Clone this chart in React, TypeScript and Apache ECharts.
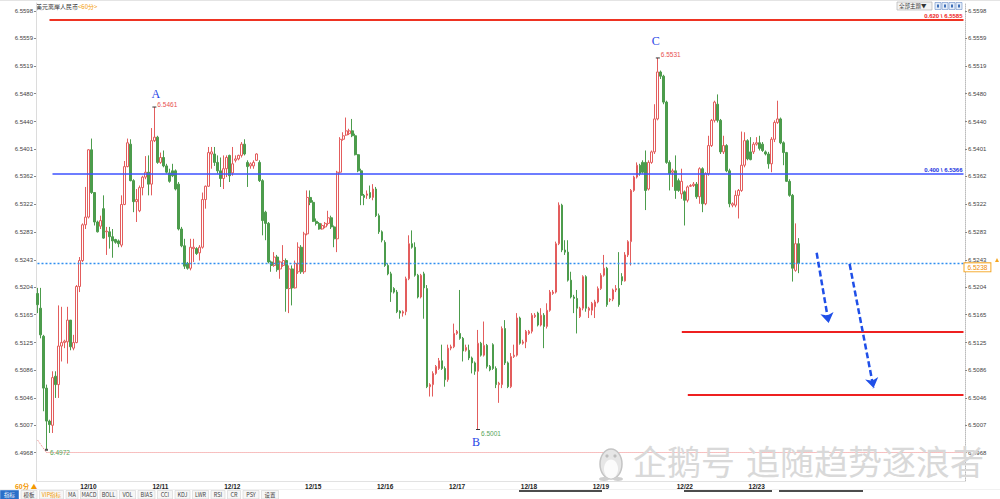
import React, { useEffect, useRef } from 'react';
import * as echarts from 'echarts';

// ---------------- data: 60-minute bars [open, close, low, high] ----------------
const barsStart = [
  [6.5195, 6.5179, 6.5167, 6.5203], [6.5174, 6.5136, 6.5131, 6.5203], [6.5134, 6.5060, 6.5027, 6.5136],
  [6.5060, 6.5013, 6.4972, 6.5065], [6.5013, 6.5008, 6.4996, 6.5015], [6.5007, 6.5075, 6.4996, 6.5084],
  [6.5077, 6.5065, 6.5046, 6.5084], [6.5065, 6.5120, 6.5046, 6.5178], [6.5120, 6.5125, 6.5098, 6.5176],
  [6.5125, 6.5127, 6.5117, 6.5129], [6.5126, 6.5157, 6.5095, 6.5176], [6.5157, 6.5119, 6.5114, 6.5157],
  [6.5117, 6.5125, 6.5114, 6.5136], [6.5125, 6.5205, 6.5124, 6.5207], [6.5205, 6.5242, 6.5197, 6.5247],
  [6.5242, 6.5293, 6.5240, 6.5295], [6.5293, 6.5304, 6.5287, 6.5347],
];
const bars1210 = [
  [6.5304, 6.5400, 6.5302, 6.5401], [6.5400, 6.5339, 6.5337, 6.5416], [6.5339, 6.5297, 6.5292, 6.5339],
  [6.5297, 6.5283, 6.5282, 6.5299], [6.5291, 6.5299, 6.5287, 6.5306], [6.5316, 6.5274, 6.5273, 6.5335],
  [6.5283, 6.5284, 6.5250, 6.5290], [6.5283, 6.5276, 6.5259, 6.5290], [6.5276, 6.5270, 6.5246, 6.5287],
  [6.5272, 6.5268, 6.5266, 6.5273], [6.5270, 6.5266, 6.5261, 6.5272], [6.5264, 6.5322, 6.5261, 6.5335],
  [6.5322, 6.5376, 6.5321, 6.5384], [6.5376, 6.5410, 6.5375, 6.5416], [6.5408, 6.5356, 6.5355, 6.5415],
  [6.5356, 6.5326, 6.5311, 6.5358], [6.5326, 6.5329, 6.5297, 6.5344], [6.5313, 6.5346, 6.5311, 6.5349],
  [6.5346, 6.5361, 6.5335, 6.5363], [6.5361, 6.5368, 6.5358, 6.5391], [6.5368, 6.5351, 6.5335, 6.5392],
  [6.5351, 6.5413, 6.5335, 6.5431], [6.5413, 6.5418, 6.5411, 6.5461], [6.5418, 6.5382, 6.5380, 6.5420],
];
const bars1211 = [
  [6.5382, 6.5389, 6.5380, 6.5396], [6.5389, 6.5377, 6.5375, 6.5399], [6.5377, 6.5368, 6.5366, 6.5380],
  [6.5367, 6.5355, 6.5353, 6.5373], [6.5370, 6.5363, 6.5361, 6.5380], [6.5370, 6.5344, 6.5342, 6.5372],
  [6.5351, 6.5287, 6.5285, 6.5354], [6.5287, 6.5263, 6.5261, 6.5290], [6.5263, 6.5234, 6.5230, 6.5273],
  [6.5238, 6.5231, 6.5229, 6.5240], [6.5231, 6.5261, 6.5228, 6.5273], [6.5259, 6.5261, 6.5240, 6.5273],
  [6.5259, 6.5252, 6.5250, 6.5261], [6.5253, 6.5261, 6.5242, 6.5264], [6.5261, 6.5329, 6.5259, 6.5339],
  [6.5329, 6.5348, 6.5316, 6.5349], [6.5348, 6.5396, 6.5347, 6.5404], [6.5394, 6.5397, 6.5373, 6.5404],
  [6.5394, 6.5382, 6.5377, 6.5404], [6.5382, 6.5370, 6.5366, 6.5392], [6.5370, 6.5359, 6.5347, 6.5389],
  [6.5359, 6.5373, 6.5344, 6.5392], [6.5373, 6.5389, 6.5361, 6.5392], [6.5392, 6.5363, 6.5354, 6.5393],
];
const bars1212 = [
  [6.5367, 6.5380, 6.5363, 6.5404], [6.5385, 6.5387, 6.5382, 6.5392], [6.5387, 6.5392, 6.5385, 6.5393],
  [6.5392, 6.5408, 6.5389, 6.5411], [6.5408, 6.5394, 6.5392, 6.5415], [6.5382, 6.5376, 6.5347, 6.5385],
  [6.5377, 6.5380, 6.5373, 6.5382], [6.5377, 6.5382, 6.5373, 6.5385], [6.5385, 6.5394, 6.5384, 6.5395],
  [6.5382, 6.5356, 6.5354, 6.5385], [6.5356, 6.5299, 6.5278, 6.5358], [6.5311, 6.5295, 6.5271, 6.5313],
  [6.5295, 6.5240, 6.5238, 6.5297], [6.5240, 6.5235, 6.5226, 6.5242], [6.5235, 6.5247, 6.5233, 6.5254],
  [6.5247, 6.5229, 6.5226, 6.5250], [6.5230, 6.5240, 6.5216, 6.5242], [6.5235, 6.5242, 6.5233, 6.5264],
  [6.5242, 6.5202, 6.5169, 6.5245], [6.5202, 6.5230, 6.5167, 6.5235], [6.5230, 6.5203, 6.5178, 6.5235],
  [6.5203, 6.5238, 6.5202, 6.5242], [6.5226, 6.5261, 6.5223, 6.5268], [6.5261, 6.5226, 6.5223, 6.5264],
  [6.5226, 6.5280, 6.5223, 6.5283], [6.5280, 6.5332, 6.5278, 6.5342], [6.5332, 6.5325, 6.5321, 6.5342],
];
const bars1215 = [
  [6.5325, 6.5298, 6.5297, 6.5328], [6.5298, 6.5295, 6.5292, 6.5302], [6.5295, 6.5287, 6.5286, 6.5297],
  [6.5287, 6.5292, 6.5286, 6.5295], [6.5290, 6.5295, 6.5288, 6.5297], [6.5295, 6.5303, 6.5292, 6.5313],
  [6.5303, 6.5290, 6.5287, 6.5306], [6.5290, 6.5273, 6.5261, 6.5292], [6.5273, 6.5368, 6.5254, 6.5370],
  [6.5368, 6.5415, 6.5366, 6.5418], [6.5415, 6.5420, 6.5413, 6.5425], [6.5421, 6.5427, 6.5420, 6.5446],
  [6.5423, 6.5427, 6.5421, 6.5430], [6.5427, 6.5420, 6.5418, 6.5444], [6.5420, 6.5393, 6.5392, 6.5423],
  [6.5393, 6.5370, 6.5368, 6.5394], [6.5370, 6.5335, 6.5321, 6.5373], [6.5335, 6.5332, 6.5321, 6.5337],
  [6.5335, 6.5337, 6.5330, 6.5342], [6.5339, 6.5332, 6.5330, 6.5349], [6.5332, 6.5344, 6.5328, 6.5351],
  [6.5344, 6.5306, 6.5304, 6.5347], [6.5306, 6.5283, 6.5280, 6.5309], [6.5283, 6.5271, 6.5268, 6.5285],
];
const bars1216 = [
  [6.5268, 6.5235, 6.5233, 6.5271], [6.5235, 6.5223, 6.5221, 6.5238], [6.5223, 6.5197, 6.5183, 6.5226],
  [6.5202, 6.5197, 6.5195, 6.5204], [6.5197, 6.5169, 6.5167, 6.5200], [6.5170, 6.5167, 6.5159, 6.5171],
  [6.5167, 6.5169, 6.5162, 6.5171], [6.5169, 6.5216, 6.5164, 6.5219], [6.5216, 6.5266, 6.5214, 6.5278],
  [6.5266, 6.5261, 6.5259, 6.5285], [6.5261, 6.5221, 6.5219, 6.5268], [6.5221, 6.5190, 6.5188, 6.5223],
  [6.5190, 6.5221, 6.5188, 6.5223], [6.5223, 6.5203, 6.5159, 6.5226], [6.5202, 6.5062, 6.5060, 6.5207],
  [6.5062, 6.5065, 6.5048, 6.5067], [6.5065, 6.5081, 6.5048, 6.5084], [6.5081, 6.5091, 6.5079, 6.5093],
  [6.5088, 6.5099, 6.5086, 6.5103], [6.5099, 6.5088, 6.5086, 6.5122], [6.5088, 6.5072, 6.5062, 6.5091],
  [6.5072, 6.5117, 6.5069, 6.5122], [6.5117, 6.5119, 6.5114, 6.5122], [6.5119, 6.5138, 6.5117, 6.5152],
];
const bars1217 = [
  [6.5138, 6.5141, 6.5136, 6.5143], [6.5138, 6.5131, 6.5129, 6.5200], [6.5131, 6.5113, 6.5098, 6.5133],
  [6.5114, 6.5118, 6.5112, 6.5122], [6.5114, 6.5103, 6.5100, 6.5122], [6.5103, 6.5096, 6.5081, 6.5105],
  [6.5096, 6.5084, 6.5079, 6.5098], [6.5084, 6.5124, 6.5001, 6.5143], [6.5124, 6.5107, 6.5105, 6.5126],
  [6.5107, 6.5121, 6.5105, 6.5155], [6.5121, 6.5091, 6.5088, 6.5123], [6.5091, 6.5086, 6.5084, 6.5093],
  [6.5122, 6.5088, 6.5086, 6.5124], [6.5088, 6.5065, 6.5060, 6.5091], [6.5065, 6.5067, 6.5039, 6.5069],
  [6.5065, 6.5145, 6.5060, 6.5148], [6.5145, 6.5096, 6.5093, 6.5157], [6.5096, 6.5062, 6.5060, 6.5098],
  [6.5062, 6.5105, 6.5060, 6.5110], [6.5105, 6.5107, 6.5103, 6.5122], [6.5107, 6.5160, 6.5105, 6.5167],
  [6.5160, 6.5124, 6.5122, 6.5162], [6.5124, 6.5126, 6.5122, 6.5129], [6.5126, 6.5141, 6.5117, 6.5143],
];
const bars1218 = [
  [6.5138, 6.5141, 6.5136, 6.5143], [6.5141, 6.5164, 6.5138, 6.5167], [6.5162, 6.5164, 6.5160, 6.5167],
  [6.5167, 6.5150, 6.5148, 6.5169], [6.5150, 6.5164, 6.5148, 6.5174], [6.5164, 6.5148, 6.5117, 6.5167],
  [6.5148, 6.5171, 6.5145, 6.5181], [6.5171, 6.5197, 6.5169, 6.5200], [6.5195, 6.5197, 6.5193, 6.5200],
  [6.5197, 6.5266, 6.5195, 6.5269], [6.5266, 6.5321, 6.5264, 6.5325], [6.5321, 6.5257, 6.5254, 6.5323],
  [6.5257, 6.5254, 6.5250, 6.5271], [6.5254, 6.5214, 6.5212, 6.5271], [6.5214, 6.5190, 6.5188, 6.5226],
  [6.5190, 6.5188, 6.5167, 6.5193], [6.5188, 6.5174, 6.5138, 6.5200], [6.5162, 6.5174, 6.5160, 6.5176],
  [6.5174, 6.5219, 6.5171, 6.5221], [6.5219, 6.5174, 6.5169, 6.5221], [6.5171, 6.5174, 6.5160, 6.5176],
  [6.5171, 6.5181, 6.5164, 6.5183], [6.5176, 6.5183, 6.5160, 6.5186], [6.5183, 6.5202, 6.5181, 6.5205],
];
const bars1219 = [
  [6.5202, 6.5221, 6.5200, 6.5224], [6.5221, 6.5231, 6.5219, 6.5250], [6.5231, 6.5179, 6.5176, 6.5233],
  [6.5186, 6.5187, 6.5183, 6.5188], [6.5187, 6.5200, 6.5184, 6.5202], [6.5200, 6.5202, 6.5197, 6.5207],
  [6.5202, 6.5179, 6.5176, 6.5254], [6.5219, 6.5213, 6.5207, 6.5224], [6.5213, 6.5250, 6.5212, 6.5254],
  [6.5250, 6.5269, 6.5247, 6.5271], [6.5269, 6.5342, 6.5235, 6.5344], [6.5342, 6.5361, 6.5340, 6.5363],
  [6.5361, 6.5378, 6.5359, 6.5382], [6.5378, 6.5366, 6.5363, 6.5380], [6.5382, 6.5368, 6.5366, 6.5385],
  [6.5382, 6.5342, 6.5314, 6.5399], [6.5344, 6.5382, 6.5342, 6.5385], [6.5382, 6.5397, 6.5380, 6.5399],
  [6.5397, 6.5444, 6.5394, 6.5465], [6.5444, 6.5511, 6.5442, 6.5531], [6.5511, 6.5505, 6.5501, 6.5513],
  [6.5505, 6.5468, 6.5465, 6.5507], [6.5468, 6.5382, 6.5380, 6.5470], [6.5382, 6.5366, 6.5342, 6.5385],
  [6.5368, 6.5370, 6.5347, 6.5373], [6.5370, 6.5342, 6.5330, 6.5392], [6.5356, 6.5342, 6.5340, 6.5359],
  [6.5337, 6.5355, 6.5330, 6.5373],
];
const bars1222 = [
  [6.5340, 6.5328, 6.5292, 6.5342], [6.5328, 6.5347, 6.5325, 6.5349], [6.5348, 6.5349, 6.5347, 6.5351],
  [6.5349, 6.5351, 6.5347, 6.5354], [6.5351, 6.5333, 6.5330, 6.5354], [6.5333, 6.5373, 6.5323, 6.5375],
  [6.5373, 6.5323, 6.5311, 6.5375], [6.5323, 6.5366, 6.5321, 6.5368], [6.5366, 6.5406, 6.5363, 6.5420],
  [6.5406, 6.5442, 6.5404, 6.5444], [6.5442, 6.5468, 6.5439, 6.5470], [6.5465, 6.5442, 6.5439, 6.5479],
  [6.5442, 6.5397, 6.5394, 6.5444], [6.5397, 6.5406, 6.5394, 6.5420], [6.5406, 6.5370, 6.5368, 6.5408],
  [6.5370, 6.5323, 6.5318, 6.5373], [6.5321, 6.5323, 6.5318, 6.5325], [6.5321, 6.5335, 6.5318, 6.5342],
  [6.5335, 6.5342, 6.5302, 6.5344], [6.5342, 6.5378, 6.5340, 6.5426], [6.5378, 6.5413, 6.5375, 6.5425],
  [6.5413, 6.5387, 6.5385, 6.5415], [6.5397, 6.5386, 6.5385, 6.5418], [6.5397, 6.5408, 6.5394, 6.5411],
];
const bars1223 = [
  [6.5408, 6.5410, 6.5406, 6.5418], [6.5410, 6.5402, 6.5399, 6.5420], [6.5408, 6.5399, 6.5397, 6.5411],
  [6.5397, 6.5394, 6.5392, 6.5399], [6.5394, 6.5380, 6.5373, 6.5397], [6.5380, 6.5415, 6.5368, 6.5418],
  [6.5415, 6.5439, 6.5411, 6.5442], [6.5439, 6.5444, 6.5437, 6.5470], [6.5444, 6.5410, 6.5408, 6.5446],
  [6.5410, 6.5396, 6.5378, 6.5412], [6.5396, 6.5355, 6.5354, 6.5397], [6.5355, 6.5335, 6.5333, 6.5358],
  [6.5335, 6.5231, 6.5212, 6.5337], [6.5228, 6.5266, 6.5226, 6.5295], [6.5266, 6.5238, 6.5224, 6.5274],
];

const daySegments = [barsStart, bars1210, bars1211, bars1212, bars1215, bars1216, bars1217, bars1218, bars1219, bars1222, bars1223];
const dayLabels = ['12/10', '12/11', '12/12', '12/15', '12/16', '12/17', '12/18', '12/19', '12/22', '12/23'];
const emptySlots = 55;

const yTickLabels = ['6.5598', '6.5559', '6.5519', '6.5480', '6.5440', '6.5401', '6.5362', '6.5322', '6.5283',
  '6.5243', '6.5204', '6.5165', '6.5125', '6.5086', '6.5046', '6.5007', '6.4968'];
const yMin = 6.49275;
const yMax = 6.56094;

const fibLevels = [
  { ratio: '0.620', price: 6.5585, start: 4 },
  { ratio: '0.400', price: 6.5366, start: 5 },
];
const fibBase = { price: 6.4968, diagStart: 0, diagPrice: 6.4986, start: 3 };
const lastPrice = 6.5238;
const targetPrices = [6.5141, 6.5050];
const targetStarts = [215, 217];
const arrowFrom = [[260, 6.5253], [271, 6.5237]];
const arrowTo = [[264, 6.5153], [279, 6.5060]];
const lowMark = { index: 3, price: 6.4972 };
const swings = [
  { name: 'A', index: 39, price: 6.5461 },
  { name: 'B', index: 147, price: 6.5001 },
  { name: 'C', index: 207, price: 6.5531 },
];
const toolbarTabs = ['指标', '模板', 'VIP指标', 'MA', 'MACD', 'BOLL', 'VOL', 'BIAS', 'CCI', 'KDJ', 'LWR', 'RSI', 'CR', 'PSY', '设置'];

// ---------------- styling / layout ----------------
const RED = '#e85050';
const UP = '#e35d5d';
const DOWN = '#4c9c4c';
const NUM_FONT = 'Liberation Sans, Arial, sans-serif';
const CJK_FONT = 'Noto Sans CJK SC, sans-serif';
const tabWidths = [19, 17, 25, 13, 18, 18, 17, 18, 16, 16, 17, 15, 14, 17, 18];

function buildOption() {
  const candles = daySegments.flat();
  const dayStarts: number[] = [];
  let acc = 0;
  daySegments.forEach((seg, i) => {
    if (i > 0) dayStarts.push(acc);
    acc += seg.length;
  });
  const total = candles.length + emptySlots;
  const categories = Array.from({ length: total }, (_, i) => {
    const d = dayStarts.indexOf(i);
    return d >= 0 ? dayLabels[d] : 'h' + i;
  });
  const last = total - 1;
  const tickValues = yTickLabels.map((s) => parseFloat(s));
  const fmtY = (v: number) => {
    const k = tickValues.findIndex((t) => Math.abs(t - v) < 1e-7);
    return k >= 0 ? yTickLabels[k] : '';
  };

  const hidden = { show: false };
  const markLines: any[] = [];
  const fibColors = ['#ee3322', '#3d52ff'];
  const fibText = ['#ee2222', '#2233dd'];
  fibLevels.forEach((f, i) => {
    markLines.push([
      {
        coord: [f.start, f.price], symbol: 'none',
        lineStyle: { color: fibColors[i], width: i === 0 ? 2 : 1.5, type: 'solid', opacity: 1 },
        label: {
          show: true, position: 'insideEndTop', distance: 1, formatter: `${f.ratio} \\ ${f.price.toFixed(4)}`,
          color: fibText[i], fontSize: 6, fontWeight: 'bold', fontFamily: NUM_FONT,
        },
      },
      { coord: [last, f.price], symbol: 'none' },
    ]);
  });
  // fib base (dotted) with leading diagonal
  markLines.push([
    { coord: [fibBase.diagStart, fibBase.diagPrice], symbol: 'none', lineStyle: { color: '#f08080', type: 'dotted', width: 1 }, label: hidden },
    { coord: [fibBase.start, fibBase.price], symbol: 'none' },
  ]);
  markLines.push([
    { coord: [fibBase.start, fibBase.price], symbol: 'none', lineStyle: { color: '#f08080', type: 'dotted', width: 1 }, label: hidden },
    { coord: [last, fibBase.price], symbol: 'none' },
  ]);
  // last price
  markLines.push([
    {
      coord: [0, lastPrice], symbol: 'none',
      lineStyle: { color: '#2f8ef0', type: [2, 2], width: 1.3 },
      label: {
        show: true, position: 'end', distance: 1, formatter: lastPrice.toFixed(4), color: '#f08c00',
        borderColor: '#f5a623', borderWidth: 1, backgroundColor: '#fff', padding: [1, 3, 0, 3],
        fontSize: 6.5, fontFamily: NUM_FONT, offset: [0, 4],
      },
    },
    { coord: [last, lastPrice], symbol: 'none' },
  ]);
  // targets
  targetPrices.forEach((p, i) => {
    markLines.push([
      { coord: [targetStarts[i], p], symbol: 'none', lineStyle: { color: '#ee2020', width: 2, type: 'solid' }, label: hidden },
      { coord: [last, p], symbol: 'none' },
    ]);
  });
  // arrows
  arrowFrom.forEach((a, i) => {
    markLines.push([
      { coord: a, symbol: 'none', lineStyle: { color: '#1f4fe8', width: 2.5, type: [6, 3] }, label: hidden },
      { coord: arrowTo[i], symbol: 'arrow', symbolSize: 10 },
    ]);
  });

  const tagColor = (name: string) => (name === 'B' ? '#58a458' : RED);
  const markPoints: any[] = [];
  markPoints.push({
    coord: [lowMark.index, lowMark.price], symbol: 'rect', symbolSize: [3, 2], itemStyle: { color: '#555' },
    label: { show: true, position: 'right', distance: 2, formatter: lowMark.price.toFixed(4), color: '#58a458', fontSize: 6.5, fontFamily: NUM_FONT, offset: [0, 3] },
  });
  swings.forEach((s) => {
    const isLow = s.name === 'B';
    markPoints.push({
      coord: [s.index, s.price], symbol: 'rect', symbolSize: [4, 1], itemStyle: { color: '#333' },
      label: {
        show: true, position: 'right', distance: 1, formatter: s.price.toFixed(4), color: tagColor(s.name),
        fontSize: 6.5, fontFamily: NUM_FONT, offset: [0, isLow ? 4 : -3],
      },
    });
    const off = s.name === 'A' ? [1.5, -13] : s.name === 'B' ? [-2, 13] : [-2, -17];
    markPoints.push({
      coord: [s.index, s.price], symbol: 'rect', symbolSize: 1, itemStyle: { color: 'rgba(0,0,0,0)' },
      label: { show: true, position: 'inside', formatter: s.name, color: '#1f44e6', fontSize: 12, fontFamily: 'Liberation Serif, serif', offset: off },
    });
  });

  // ---- graphic chrome ----
  const g: any[] = [];
  g.push({ type: 'rect', shape: { x: 0, y: 0, width: 1000, height: 1 }, style: { fill: '#e4e4e4' }, silent: true });
  g.push({ type: 'text', style: { text: '美元离岸人民币', x: 36, y: 6.5, fontSize: 6, fontFamily: CJK_FONT, fill: '#333', verticalAlign: 'middle' } });
  g.push({ type: 'text', style: { text: '<60分>', x: 78, y: 6.5, fontSize: 6, fontFamily: CJK_FONT, fill: '#f39800', verticalAlign: 'middle' } });
  g.push({ type: 'rect', shape: { x: 897, y: 2, width: 35, height: 8 }, style: { fill: '#f3f3f3', stroke: '#a8a8a8', lineWidth: 0.6 } });
  g.push({ type: 'text', style: { text: '全部主题▼', x: 899, y: 6.2, fontSize: 5.5, fontFamily: CJK_FONT, fill: '#333', verticalAlign: 'middle' } });
  [935, 942, 949, 956].forEach((x) => {
    g.push({ type: 'rect', shape: { x, y: 2.5, width: 6, height: 7 }, style: { fill: '#e4edf9', stroke: '#6a8fc7', lineWidth: 0.6 } });
    g.push({ type: 'rect', shape: { x: x + 2, y: 4.5, width: 2, height: 3 }, style: { fill: '#3d6fb8' } });
  });
  g.push({ type: 'polygon', shape: { points: [[995, 262], [999, 262], [997, 258]] }, style: { fill: '#f5a623' } });
  // watermark
  g.push({ type: 'ellipse', z: 50, shape: { cx: 611, cy: 464, rx: 11, ry: 15 }, style: { fill: '#e6e6e6', stroke: '#c4c4c4', lineWidth: 1.5 } });
  g.push({ type: 'ellipse', z: 51, shape: { cx: 611, cy: 469, rx: 7, ry: 9.5 }, style: { fill: '#fbfbfb' } });
  g.push({ type: 'circle', z: 52, shape: { cx: 607, cy: 456, r: 1.6 }, style: { fill: '#bdbdbd' } });
  g.push({ type: 'circle', z: 52, shape: { cx: 615, cy: 456, r: 1.6 }, style: { fill: '#bdbdbd' } });
  g.push({ type: 'ellipse', z: 52, shape: { cx: 604, cy: 479, rx: 5, ry: 2 }, style: { fill: '#cfcfcf' } });
  g.push({ type: 'ellipse', z: 52, shape: { cx: 618, cy: 479, rx: 5, ry: 2 }, style: { fill: '#cfcfcf' } });
  const wm = { fontSize: 34, fontFamily: CJK_FONT, fill: '#d9d9d9', verticalAlign: 'middle', shadowColor: 'rgba(0,0,0,0.45)', shadowBlur: 1, shadowOffsetX: 1, shadowOffsetY: 1 };
  g.push({ type: 'text', z: 53, style: { ...wm, text: '企鹅号', x: 633, y: 460 } });
  g.push({ type: 'text', z: 53, style: { ...wm, text: '追随趋势逐浪者', x: 746, y: 460 } });
  // bottom rows
  g.push({ type: 'text', style: { text: '60分 ▲', x: 15, y: 486, fontSize: 6.5, fontWeight: 'bold', fontFamily: CJK_FONT, fill: '#f39800', verticalAlign: 'middle' } });
  g.push({ type: 'rect', shape: { x: 0, y: 489.5, width: 1000, height: 0.6 }, style: { fill: '#e3e3e3' } });
  [[519, 602], [684, 772], [779, 863]].forEach(([a, b]) => {
    g.push({ type: 'line', shape: { x1: a, y1: 491, x2: b, y2: 491 }, style: { stroke: '#111', lineWidth: 1.4 } });
  });
  let tx = 0;
  toolbarTabs.forEach((t, i) => {
    const w = tabWidths[i];
    g.push({ type: 'rect', shape: { x: tx + 0.5, y: 490.5, width: w - 1, height: 8.5 }, style: { fill: i === 0 ? '#2a6fc9' : '#f6f6f6', stroke: i === 0 ? '#2a6fc9' : '#d4d4d4', lineWidth: 0.6 } });
    g.push({ type: 'text', style: { text: t, x: tx + w / 2, y: 495, align: 'center', verticalAlign: 'middle', fontSize: 5.5, fontFamily: CJK_FONT, fill: i === 0 ? '#fff' : i === 2 ? '#f39800' : '#444' } });
    tx += w + 1.5;
  });

  const yAxisBase = (pos: 'left' | 'right') => ({
    type: 'value', position: pos, min: yMin, max: yMax,
    axisLine: { show: true, lineStyle: { color: pos === 'left' ? '#dcdcdc' : '#bbbbbb', type: pos === 'left' ? 'solid' : 'dotted' } },
    axisTick: { show: true, length: 2, customValues: tickValues, lineStyle: { color: '#888' } },
    axisLabel: { customValues: tickValues, formatter: fmtY, fontSize: 6, color: '#444', margin: 3, fontFamily: NUM_FONT },
    splitLine: { show: false },
  });

  return {
    animation: false,
    backgroundColor: '#ffffff',
    textStyle: { fontFamily: NUM_FONT },
    grid: { left: 36, right: 35, top: 3, bottom: 18, show: false },
    xAxis: {
      type: 'category', data: categories, boundaryGap: true,
      axisLine: { show: true, lineStyle: { color: '#e2e2e2' } },
      axisTick: { show: false },
      axisLabel: {
        interval: (i: number) => dayStarts.includes(i),
        fontSize: 6.5, fontWeight: 'bold', color: '#222', margin: 2, fontFamily: NUM_FONT,
      },
      splitLine: { show: false },
    },
    yAxis: [yAxisBase('left'), yAxisBase('right')],
    series: [
      {
        type: 'candlestick',
        data: candles,
        barWidth: 2.2,
        itemStyle: { color: '#ffffff', color0: DOWN, borderColor: UP, borderColor0: DOWN, borderWidth: 1 },
        emphasis: { disabled: true },
        markLine: { silent: true, precision: 4, symbol: ['none', 'none'], animation: false, emphasis: { disabled: true }, label: hidden, data: markLines },
        markPoint: { silent: true, animation: false, data: markPoints },
      },
    ],
    graphic: g,
  };
}

export default function App() {
  const ref = useRef<HTMLDivElement>(null);
  useEffect(() => {
    if (!ref.current) return;
    const chart = echarts.init(ref.current, undefined, { renderer: 'svg' });
    chart.setOption(buildOption() as any);
    return () => chart.dispose();
  }, []);
  return <div ref={ref} style={{ position: 'fixed', left: 0, top: 0, width: 1000, height: 499, background: '#fff' }} />;
}
